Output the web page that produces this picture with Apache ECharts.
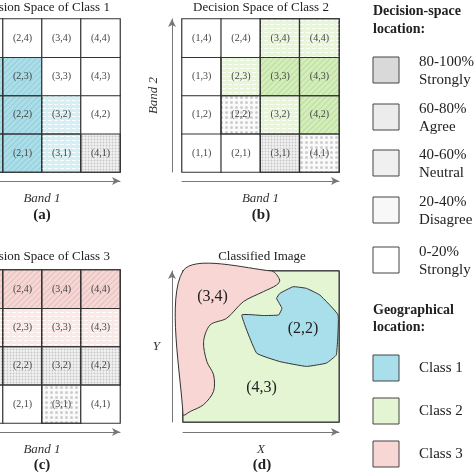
<!DOCTYPE html>
<html><head><meta charset="utf-8">
<script src="https://cdn.jsdelivr.net/npm/echarts@6/dist/echarts.min.js"></script>
<style>html,body{margin:0;padding:0;background:#fff;overflow:hidden}#c{position:absolute;left:-36px;top:0;width:510px;height:474px}</style>
</head><body><div id="c"></div>
<script>
const bands = ['1','2','3','4'];
// decision-space levels: 0:0-20%,1:20-40%,2:40-60%,3:60-80%,4:80-100%; [band1, band2, level]
const class1Levels = [[1,1,4],[1,2,4],[1,3,4],[1,4,0],[2,1,4],[2,2,4],[2,3,4],[2,4,0],[3,1,3],[3,2,3],[3,3,0],[3,4,0],[4,1,2],[4,2,0],[4,3,0],[4,4,0]];
const class2Levels = [[1,1,0],[1,2,0],[1,3,0],[1,4,0],[2,1,0],[2,2,1],[2,3,3],[2,4,0],[3,1,2],[3,2,3],[3,3,4],[3,4,3],[4,1,1],[4,2,4],[4,3,4],[4,4,3]];
const class3Levels = [[1,1,0],[1,2,2],[1,3,3],[1,4,4],[2,1,0],[2,2,2],[2,3,3],[2,4,4],[3,1,1],[3,2,2],[3,3,3],[3,4,4],[4,1,0],[4,2,2],[4,3,3],[4,4,4]];
const levelNames = [['0-20%','Strongly'],['20-40%','Disagree'],['40-60%','Neutral'],['60-80%','Agree'],['80-100%','Strongly']];
const classNames = ['Class 1','Class 2','Class 3'];
// classified image regions (X,Y in % of image)
const class3Region = [[0,100],[56.8,100],[62,94],[60,90.7],[51.5,86.3],[38.7,79.7],[28,68.7],[17.4,64.3],[13.2,53.3],[15.3,40],[19.6,31.3],[19.6,20.3],[13.2,11.5],[4.7,7],[0,4.8]];
const class1Region = [[37.7,70.9],[47.2,45.6],[62.1,40],[79.1,36.8],[91.9,39],[98.3,44.5],[99.4,70.9],[87.7,84.1],[79.1,88.5],[70.6,89.6],[62.1,85.2],[60,81.9],[63.4,75.3],[61.3,70.9],[51.5,70.5]];
const regionLabels = [['(3,4)',18.9,83],['(2,2)',77,62],['(4,3)',50.4,22.5]];

const classColor = ['#a9dfea','#e3f5d2','#f7d6d3'];
const classCell = ['#a9dfea','#d3efb8','#f7d6d3'];
const classLight = ['#d5eff5','#e6f6d6','#fbe9e7'];
const SERIF = 'Liberation Serif';
const OX = 36;
const decal4 = {symbol:'rect',rotation:-Math.PI/4,dashArrayX:[1,0],dashArrayY:[1,2.5],color:'rgba(60,60,60,0.13)'};
const decal3 = {symbol:'rect',dashArrayX:[[4,2]],dashArrayY:[1,3],color:'rgba(255,255,255,0.85)'};
const decalDots = {symbol:'circle',symbolSize:0.6,dashArrayX:[3,0],dashArrayY:[3,0],color:'rgba(0,0,0,0.18)'};
const decalSparse = {symbol:'circle',symbolSize:0.6,dashArrayX:[5,0],dashArrayY:[5,0],color:'rgba(0,0,0,0.18)'};
function styleFor(ci, lv){
  if(lv===4) return {color:classCell[ci],decal:decal4};
  if(lv===3) return {color:classLight[ci],decal:decal3};
  if(lv===2) return {color:'#f1f1f1',decal:decalDots};
  if(lv===1) return {color:'#fafafa',decal:decalSparse};
  return {color:'#ffffff'};
}
const legendFill = ['#ffffff','#f8f8f8','#f0f0f0','#ececec','#d9d9d9'];

const grids = [
 {left:0,top:19,width:156,height:153},
 {left:218,top:19,width:157,height:153},
 {left:0,top:270,width:156,height:153},
 {left:219,top:271,width:156,height:151,show:true,borderColor:'#333',borderWidth:1.5}
];
const xAxes=[],yAxes=[],series=[];
const levelsAll=[class1Levels,class2Levels,class3Levels];
const nameStyle={fontFamily:SERIF,fontStyle:'italic',fontSize:13,color:'#333'};
const arrowLine={show:true,onZero:false,lineStyle:{color:'#777'},symbol:['none','arrow'],symbolSize:[6,8]};
[0,1,2].forEach(i=>{
  xAxes.push({type:'category',gridIndex:i,data:bands,axisTick:{show:false},axisLabel:{show:false},
    axisLine:arrowLine,offset:9,name:'Band 1',nameLocation:'middle',nameGap:11,nameTextStyle:nameStyle});
  yAxes.push({type:'category',gridIndex:i,data:bands,axisTick:{show:false},axisLabel:{show:false},
    axisLine:Object.assign({},arrowLine,{show:i===1}),offset:10,
    name:i===1?'Band 2':'',nameLocation:'middle',nameGap:12,nameTextStyle:nameStyle});
  series.push({type:'heatmap',xAxisIndex:i,yAxisIndex:i,
    data:levelsAll[i].map(d=>({value:[String(d[0]),String(d[1]),d[2]],itemStyle:Object.assign({borderColor:'#333',borderWidth:1.2},styleFor(i,d[2]))})),
    label:{show:true,fontFamily:SERIF,fontSize:10,color:'#444',formatter:p=>'('+p.value[0]+','+p.value[1]+')'},
    emphasis:{disabled:true}});
});
xAxes.push({type:'value',gridIndex:3,min:0,max:100,splitLine:{show:false},axisTick:{show:false},axisLabel:{show:false},
  axisLine:arrowLine,offset:10,name:'X',nameLocation:'middle',nameGap:11,nameTextStyle:nameStyle});
yAxes.push({type:'value',gridIndex:3,min:0,max:100,splitLine:{show:false},axisTick:{show:false},axisLabel:{show:false},
  axisLine:arrowLine,offset:11,name:'Y',nameLocation:'middle',nameGap:12,nameRotate:0,nameTextStyle:nameStyle});
function regionSeries(pts, fill, smooth){
  return {type:'custom',xAxisIndex:3,yAxisIndex:3,data:[0],silent:true,
    renderItem:(params,api)=>({type:'polygon',shape:{points:pts.map(p=>api.coord(p)),smooth:smooth},
      style:{fill:fill,stroke:'#333',lineWidth:1}})};
}
series.push(regionSeries([[0,0],[100,0],[100,100],[0,100]],classColor[1],0));
series.push(regionSeries(class3Region,classColor[2],0.3));
series.push(regionSeries(class1Region,classColor[0],0.1));
series.push({type:'custom',xAxisIndex:3,yAxisIndex:3,data:regionLabels.map(r=>[r[1],r[2]]),silent:true,
  renderItem:(params,api)=>{const c=api.coord([api.value(0),api.value(1)]);
    return {type:'text',x:c[0],y:c[1],style:{text:regionLabels[params.dataIndex][0],fontFamily:SERIF,fontSize:16,fill:'#222',align:'center',verticalAlign:'middle'}};}});

const g=[];
function txt(t,x,y,o){g.push({type:'text',x:x+OX,y:y,style:Object.assign({text:t,fontFamily:SERIF,fontSize:13,fill:'#222',align:'center',verticalAlign:'middle'},o||{})});}
txt('Decision Space of Class 1',42,8);
txt('Decision Space of Class 2',261,8);
txt('Decision Space of Class 3',42,257);
txt('Classified Image',262,257);
txt('(a)',42,215,{fontSize:15,fontWeight:'bold'});
txt('(b)',261,215,{fontSize:15,fontWeight:'bold'});
txt('(c)',42,465,{fontSize:15,fontWeight:'bold'});
txt('(d)',262,465,{fontSize:15,fontWeight:'bold'});
txt('Decision-space',373,11,{align:'left',fontWeight:'bold',fontSize:14});
txt('location:',373,29,{align:'left',fontWeight:'bold',fontSize:14});
const boxTops=[57,104,150,197,247];
[4,3,2,1,0].forEach((lv,k)=>{
  g.push({type:'rect',shape:{x:373+OX,y:boxTops[k],width:26,height:26},style:{fill:legendFill[lv],stroke:'#444',lineWidth:1}});
  txt(levelNames[lv][0],419,boxTops[k]+5,{align:'left',fontSize:15});
  txt(levelNames[lv][1],419,boxTops[k]+23,{align:'left',fontSize:15});
});
txt('Geographical',373,310,{align:'left',fontWeight:'bold',fontSize:14});
txt('location:',373,327,{align:'left',fontWeight:'bold',fontSize:14});
const cTops=[355,398,441];
classNames.forEach((n,k)=>{
  g.push({type:'rect',shape:{x:373+OX,y:cTops[k],width:26,height:26},style:{fill:classColor[k],stroke:'#444',lineWidth:1}});
  txt(n,419,cTops[k]+13,{align:'left',fontSize:15});
});

const chart=echarts.init(document.getElementById('c'));
chart.setOption({animation:false,backgroundColor:'#fff',grid:grids,xAxis:xAxes,yAxis:yAxes,series:series,graphic:g});
</script></body></html>
